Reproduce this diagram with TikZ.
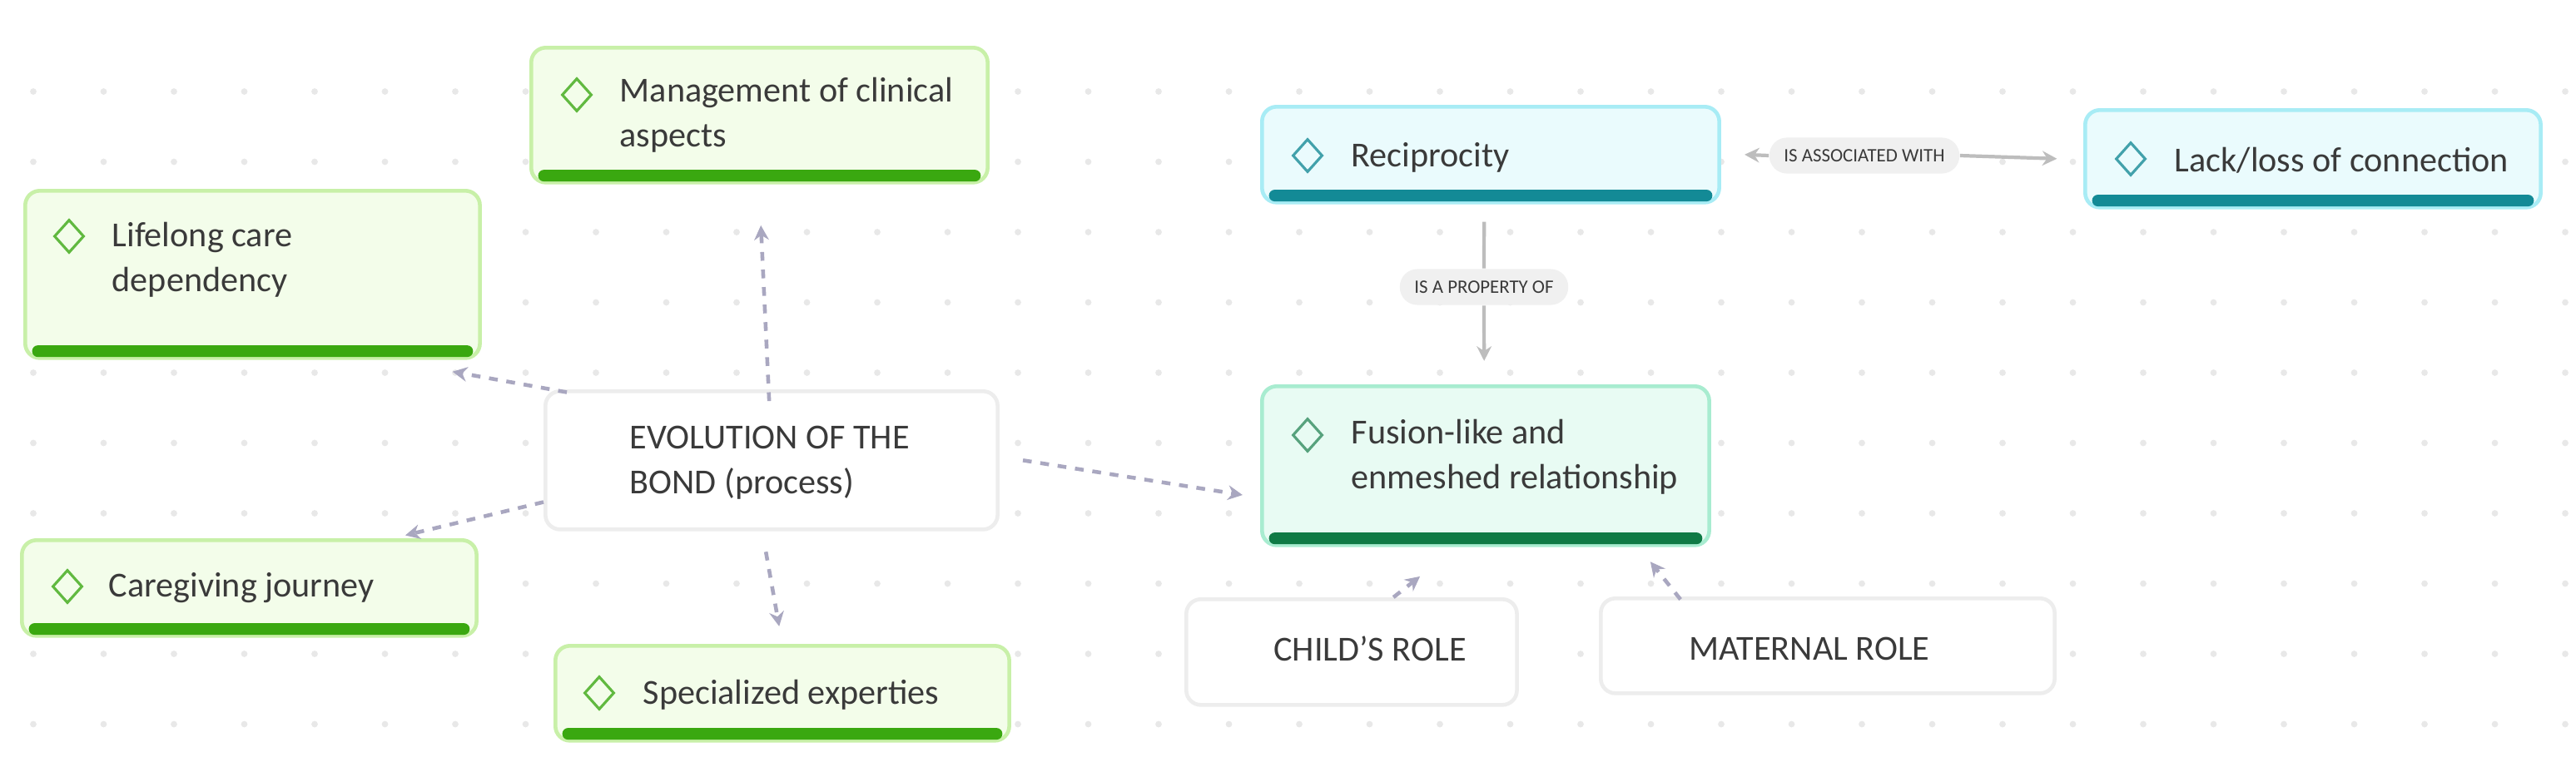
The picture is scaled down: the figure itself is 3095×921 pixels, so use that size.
\documentclass[tikz,border=0pt]{standalone}
\usepackage{fontspec}
\setmainfont{Carlito}
\usetikzlibrary{arrows.meta,shapes.geometric}
\definecolor{txt}{HTML}{3A3A3A}
\definecolor{gbord}{HTML}{C8F0A8}\definecolor{gfill}{HTML}{F3FDEA}\definecolor{gbar}{HTML}{3AA810}
\definecolor{cbord}{HTML}{A8ECF5}\definecolor{cfill}{HTML}{EAFBFD}\definecolor{cbar}{HTML}{138A96}
\definecolor{fbord}{HTML}{A8ECD0}\definecolor{ffill}{HTML}{E8FBF3}\definecolor{fbar}{HTML}{0F7A45}
\definecolor{dash}{HTML}{A9A7C0}\definecolor{solidc}{HTML}{BDBDBD}
\tikzset{
 x=0.01cm,y=-0.01cm,
 box/.style={rounded corners=5pt,line width=1.3pt,anchor=north west,inner sep=0pt},
 gbox/.style={box,draw=gbord,fill=gfill},
 cbox/.style={box,draw=cbord,fill=cfill},
 fbox/.style={box,draw=fbord,fill=ffill},
 wbox/.style={box,draw=black!7,fill=white},
 txtn/.style={anchor=west,text=txt,font=\fontsize{12}{15.5}\selectfont,align=left,inner sep=0pt},
 dia/.style={diamond,draw,line width=0.9pt,minimum width=0.36cm,minimum height=0.4cm,inner sep=0pt},
 dconn/.style={draw=dash,line width=1.3pt,dash pattern=on 3pt off 3pt,-{Stealth[length=5pt,width=5pt]}},
 sconn/.style={draw=solidc,line width=1.2pt,-{Stealth[length=5pt,width=5pt]}},
 lab/.style={fill=black!6,rounded corners=6pt,text=txt,font=\fontsize{6.5}{8}\selectfont,inner xsep=5pt,inner ysep=4pt},
}
\begin{document}
\begin{tikzpicture}
\useasboundingbox (0,0) rectangle (3095,921);
\fill[white] (0,0) rectangle (3095,921);
% dot grid
\foreach \i in {0,...,36} \foreach \j in {0,...,9}
  \fill[black!9] (40+\i*84.5,110+\j*84.5) circle (1.1pt);
% boxes
\node[gbox,minimum width=5.48cm,minimum height=1.62cm] (mgmt) at (636,55) {};
\node[gbox,minimum width=5.46cm,minimum height=2.01cm] (life) at (28,227) {};
\node[wbox,minimum width=5.43cm,minimum height=1.66cm] (evo) at (653,468) {};
\node[gbox,minimum width=5.46cm,minimum height=1.15cm] (care) at (24,647) {};
\node[gbox,minimum width=5.45cm,minimum height=1.14cm] (spec) at (665,774) {};
\node[cbox,minimum width=5.49cm,minimum height=1.15cm] (reci) at (1514,126) {};
\node[cbox,minimum width=5.47cm,minimum height=1.17cm] (lack) at (2503,130) {};
\node[fbox,minimum width=5.37cm,minimum height=1.91cm] (fus) at (1514,462) {};
\node[wbox,minimum width=3.97cm,minimum height=1.27cm] (child) at (1423,718) {};
\node[wbox,minimum width=5.45cm,minimum height=1.14cm] (mat) at (1921,717) {};
% bottom bars
\foreach \n/\c in {mgmt/gbar,life/gbar,care/gbar,spec/gbar,reci/cbar,lack/cbar,fus/fbar}
  \fill[\c,rounded corners=2pt] ([xshift=3pt,yshift=1pt]\n.south west) rectangle ([xshift=-3pt,yshift=5pt]\n.south east);
% diamonds
\node[dia,draw=gbar!80] (dm) at (693,114) {};
\node[dia,draw=gbar!80] (dl) at (83,284) {};
\node[dia,draw=gbar!80] (dc) at (81,705) {};
\node[dia,draw=gbar!80] (ds) at (720,833) {};
\node[dia,draw=cbar!80] (dr) at (1571,187) {};
\node[dia,draw=cbar!80] (dk) at (2560,191) {};
\node[dia,draw=fbar!70] (df) at (1571,523) {};
% texts
\node[txtn,anchor=north west] (tm) at (744,92) {Management of clinical\\aspects};
\node[txtn,anchor=north west] (tl) at (134,266) {Lifelong care\\dependency};
\node[txtn,anchor=north west] (te) at (756,511) {EVOLUTION OF THE\\BOND (process)};
\node[txtn] (tc) at (130,707) {Caregiving journey};
\node[txtn] (ts) at (772,835) {Specialized experties};
\node[txtn] (tr) at (1623,189) {Reciprocity};
\node[txtn] (tk) at (2612,193) {Lack/loss of connection};
\node[txtn,anchor=north west] (tf) at (1623,503) {Fusion-like and\\enmeshed relationship};
\node[txtn,anchor=center] (tch) at (1646,780) {CHILD'S ROLE};
\node[txtn,anchor=center] (tma) at (2174,780) {MATERNAL ROLE};
% connectors
\draw[dconn] ([xshift=2.71cm,yshift=-4pt]evo.north west) -- ([xshift=2.78cm,yshift=-14pt]mgmt.south west);
\draw[dconn] ([xshift=0.28cm,yshift=-1pt]evo.north west) -- ([xshift=-10pt,yshift=-4pt]life.south east);
\draw[dconn] ([yshift=10pt]evo.south west) -- ([xshift=-25pt,yshift=1pt]care.north east);
\draw[dconn] ([xshift=2.67cm,yshift=-7pt]evo.south west) -- ([xshift=2.71cm,yshift=6pt]spec.north west);
\draw[dconn] ([xshift=8pt]evo.east) -- ([xshift=-6pt,yshift=-10pt]fus.west);
\draw[dconn] ([xshift=2.51cm]child.north west) -- ([xshift=1.92cm,yshift=-10pt]fus.south west);
\draw[dconn] ([xshift=0.98cm,yshift=-1pt]mat.north west) -- ([xshift=-0.73cm,yshift=-5pt]fus.south east);
\node[lab] (l1) at (1783,345) {IS A PROPERTY OF};
\draw[solidc,line width=1.2pt] ([xshift=2.69cm,yshift=-6pt]reci.south west) -- (l1.north);
\draw[sconn] (l1.south) -- ([xshift=2.69cm,yshift=8pt]fus.north west);
\node[lab] (l2) at (2240,187) {IS ASSOCIATED WITH};
\draw[sconn] (l2.west) -- ([xshift=8pt]reci.east);
\draw[sconn] (l2.east) -- ([xshift=-9pt]lack.west);
\end{tikzpicture}
\end{document}
